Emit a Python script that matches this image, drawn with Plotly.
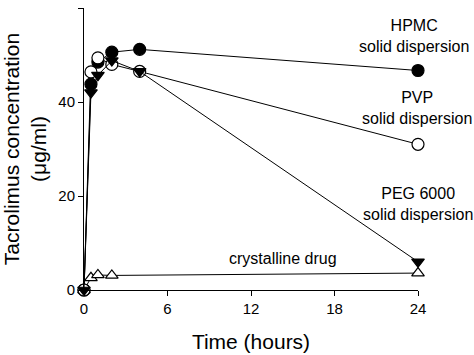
import plotly.graph_objects as go

time_main = [0, 0.5, 1, 2, 4, 24]
hpmc = [0, 43.8, 48.5, 50.6, 51.2, 46.7]
pvp = [0, 46.4, 49.4, 48.0, 46.5, 31.0]
peg = [0, 42.0, 45.7, 48.8, 46.5, 6.0]
time_cryst = [0, 0.5, 1, 2, 24]
cryst = [0, 2.6, 3.2, 3.1, 3.6]

x_ticks = [0, 6, 12, 18, 24]
y_ticks = [0, 20, 40, 60]

labels = [
    ("HPMC<br>solid dispersion", 23.7, 54.0),
    ("PVP<br>solid dispersion", 23.9, 38.8),
    ("PEG 6000<br>solid dispersion", 24.0, 18.4),
    ("crystalline drug", 14.3, 6.8),
]

font = "Liberation Sans, Arial, sans-serif"
fig = go.Figure()

def add(x, y, symbol, fill, size):
    fig.add_trace(go.Scatter(
        x=x, y=y, mode="lines+markers",
        line=dict(color="black", width=1),
        marker=dict(symbol=symbol, size=size, color=fill,
                    line=dict(color="black", width=1.2)),
        cliponaxis=False, showlegend=False))

add(time_cryst, cryst, "triangle-up", "white", 11)
add(time_main, hpmc, "circle", "black", 12)
add(time_main, pvp, "circle", "white", 12)
add(time_main, peg, "triangle-down", "black", 11)

for text, x, y in labels:
    fig.add_annotation(x=x, y=y, text=text, showarrow=False,
                       font=dict(family=font, size=16, color="black"),
                       align="center")

fig.update_layout(
    width=474, height=355,
    margin=dict(l=84, r=56, t=8, b=65, autoexpand=False),
    paper_bgcolor="white", plot_bgcolor="white",
    font=dict(family=font, color="black"),
    xaxis=dict(range=[0, 24], tickvals=x_ticks, showline=True,
               linecolor="black", linewidth=1, ticks="outside", ticklen=5,
               tickcolor="black", showgrid=False, zeroline=False,
               tickfont=dict(size=15), automargin=False,
               title=dict(text="Time (hours)", font=dict(size=21), standoff=18)),
    yaxis=dict(range=[0, 60], tickvals=y_ticks, showline=True,
               linecolor="black", linewidth=1, ticks="outside", ticklen=5,
               tickcolor="black", showgrid=False, zeroline=False,
               tickfont=dict(size=15), automargin=False,
               title=dict(text="Tacrolimus concentration<br>(μg/ml)",
                          font=dict(size=21), standoff=6)),
)

fig.write_html("out.html")
